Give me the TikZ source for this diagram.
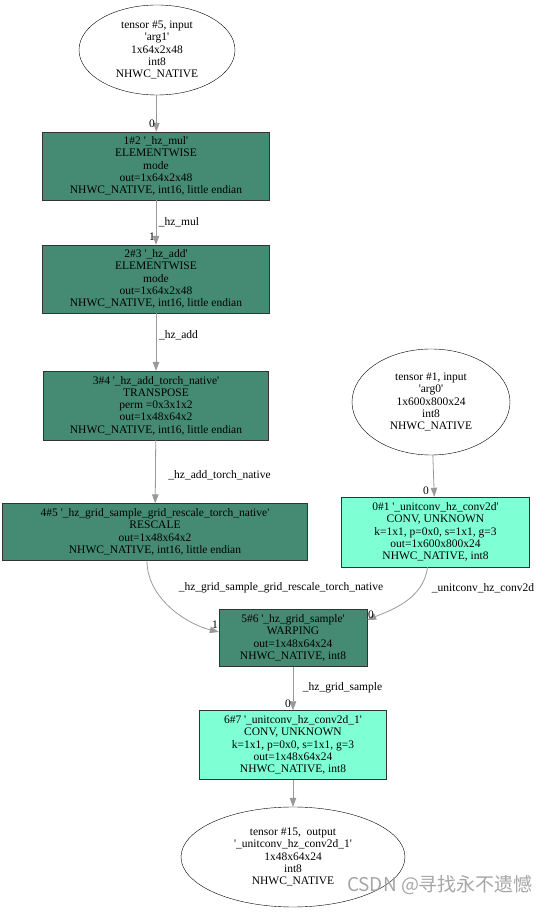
\documentclass[tikz,border=0pt]{standalone}
\usepackage{fontspec}
\newfontfamily\dotfont{Liberation Serif}
\newfontfamily\cjkfont{Noto Sans CJK SC}
\usetikzlibrary{shapes.geometric,arrows.meta}
\definecolor{myopcolor}{HTML}{458B74}
\definecolor{myconvcolor}{HTML}{7FFFD4}
\definecolor{myedgecolor}{HTML}{999999}
\tikzset{
  dottext/.style={font=\dotfont\fontsize{11.5pt}{12.3pt}\selectfont, align=center, inner sep=1pt},
  opbox/.style={dottext, draw=black!80, fill=myopcolor, rectangle},
  convbox/.style={dottext, draw=black!80, fill=myconvcolor, rectangle},
  tensorell/.style={dottext, draw=black, fill=white, ellipse},
  edgeline/.style={draw=myedgecolor, line width=0.8pt, -{Triangle[length=9pt,width=6.5pt]}},
  edgelbl/.style={dottext, inner sep=0pt},
}

\begin{document}
\begin{tikzpicture}[x=1pt, y=1pt]%
\useasboundingbox (0, 0) rectangle (551, 914);%
% tensors and ops
\node[tensorell, minimum width=156pt, minimum height=90pt] (arg1) at (157, 864) {tensor \#5, input\\'arg1'\\1x64x2x48\\int8\\NHWC\_NATIVE};%
\node[opbox, minimum width=227pt, minimum height=68pt] (mul) at (156, 748) {1\#2 '\_hz\_mul'\\ELEMENTWISE\\mode\\out=1x64x2x48\\NHWC\_NATIVE, int16, little endian};%
\node[opbox, minimum width=227pt, minimum height=68pt] (add) at (156, 635) {2\#3 '\_hz\_add'\\ELEMENTWISE\\mode\\out=1x64x2x48\\NHWC\_NATIVE, int16, little endian};%
\node[opbox, minimum width=225pt, minimum height=69pt] (trans) at (156, 508.5) {3\#4 '\_hz\_add\_torch\_native'\\TRANSPOSE\\perm =0x3x1x2\\out=1x48x64x2\\NHWC\_NATIVE, int16, little endian};%
\node[tensorell, minimum width=158pt, minimum height=106pt] (arg0) at (431, 512) {tensor \#1, input\\'arg0'\\1x600x800x24\\int8\\NHWC\_NATIVE};%
\node[opbox, minimum width=305pt, minimum height=57pt] (rescale) at (155, 382) {4\#5 '\_hz\_grid\_sample\_grid\_rescale\_torch\_native'\\RESCALE\\out=1x48x64x2\\NHWC\_NATIVE, int16, little endian};%
\node[convbox, minimum width=188pt, minimum height=70pt] (conv) at (435.5, 382) {0\#1 '\_unitconv\_hz\_conv2d'\\CONV, UNKNOWN\\k=1x1, p=0x0, s=1x1, g=3\\out=1x600x800x24\\NHWC\_NATIVE, int8};%
\node[opbox, minimum width=148pt, minimum height=57pt] (warp) at (293, 276) {5\#6 '\_hz\_grid\_sample'\\WARPING\\out=1x48x64x24\\NHWC\_NATIVE, int8};%
\node[convbox, minimum width=187pt, minimum height=69pt] (convb) at (293, 169) {6\#7 '\_unitconv\_hz\_conv2d\_1'\\CONV, UNKNOWN\\k=1x1, p=0x0, s=1x1, g=3\\out=1x48x64x24\\NHWC\_NATIVE, int8};%
\node[tensorell, minimum width=224pt, minimum height=100pt] (result) at (293, 57) {tensor \#15, \ output\\'\_unitconv\_hz\_conv2d\_1'\\1x48x64x24\\int8\\NHWC\_NATIVE};%
% edges
\draw[edgeline] (arg1) -- (mul);%
\draw[edgeline] (mul) -- (add);%
\draw[edgeline] (add) -- (trans);%
\draw[edgeline] (trans) -- (rescale);%
\draw[edgeline] (arg0) -- (conv);%
\draw[edgeline] ([xshift=-8pt]rescale.south) .. controls +(0,-38) and +(-32,8) .. ([yshift=6pt]warp.west);%
\draw[edgeline] ([xshift=-8pt]conv.south) .. controls +(-4,-32) and +(24,10) .. ([yshift=18pt]warp.east);%
\draw[edgeline] (warp) -- (convb);%
\draw[edgeline] (convb) -- (result);%
% edge labels
\node[edgelbl] (hmul) at (152, 790) {0};%
\node[edgelbl] (lmul) at (179, 692) {\_hz\_mul};%
\node[edgelbl] (hadd) at (152, 677) {1};%
\node[edgelbl] (ladd) at (178.5, 579) {\_hz\_add};%
\node[edgelbl] (ltrans) at (219.5, 439) {\_hz\_add\_torch\_native};%
\node[edgelbl] (hconv) at (426, 423) {0};%
\node[edgelbl] (lrescale) at (281, 326) {\_hz\_grid\_sample\_grid\_rescale\_torch\_native};%
\node[edgelbl] (lconv) at (483, 326) {\_unitconv\_hz\_conv2d};%
\node[edgelbl] (hwarpa) at (215, 289) {1};%
\node[edgelbl] (hwarpb) at (371, 299) {0};%
\node[edgelbl] (lwarp) at (342.5, 226) {\_hz\_grid\_sample};%
\node[edgelbl] (hconvb) at (288, 210) {0};%
% watermark
\node[font=\cjkfont\fontsize{19pt}{19pt}\selectfont, text=black!35, inner sep=0pt] (mark) at (440, 29) {CSDN @寻找永不遗憾};%
\end{tikzpicture}
\end{document}
